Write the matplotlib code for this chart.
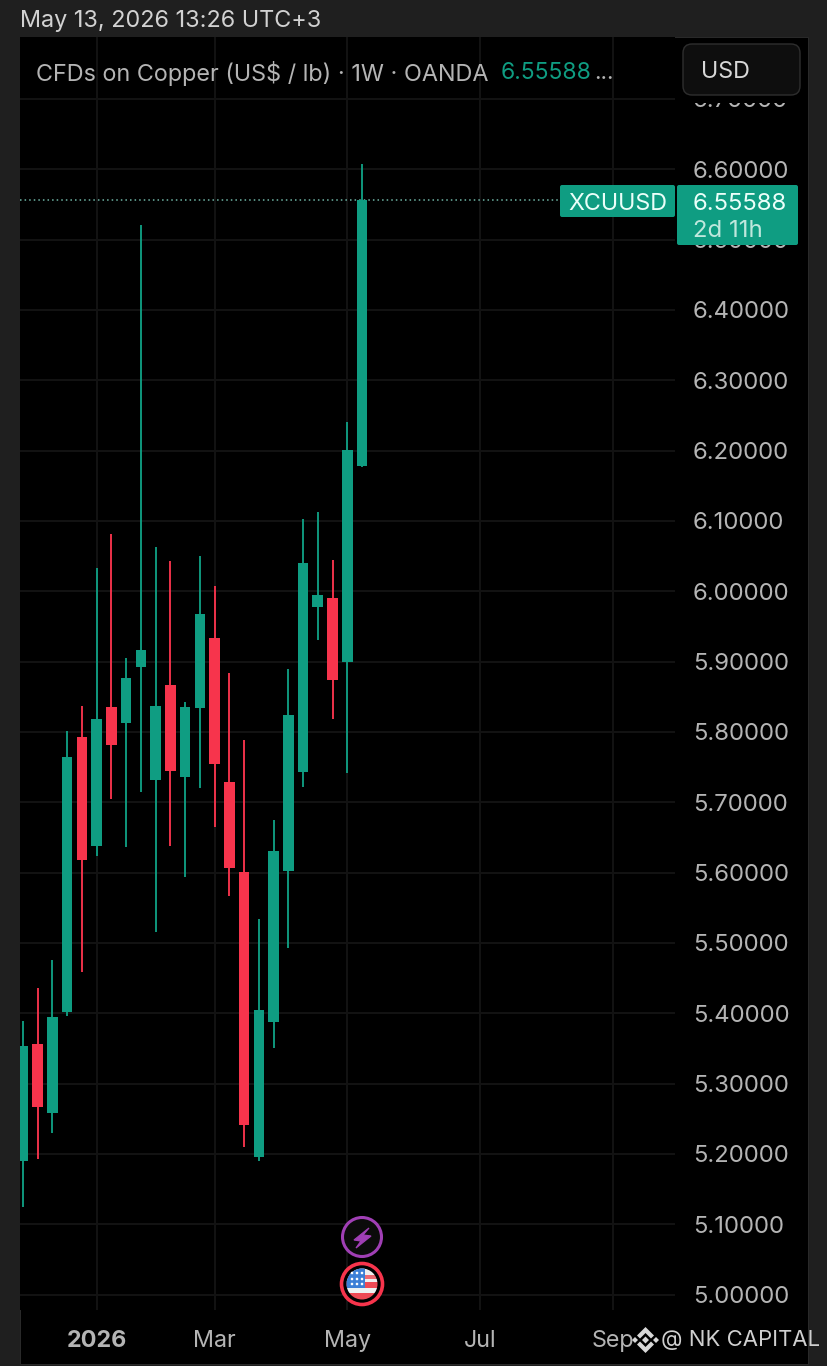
import matplotlib
matplotlib.use('Agg')
import matplotlib.pyplot as plt
from matplotlib.patches import Circle, FancyBboxPatch, Polygon, Rectangle

opens = [5.190, 5.356, 5.258, 5.402, 5.793, 5.638, 5.836, 5.813, 5.892, 5.732, 5.867, 5.736,
         5.834, 5.934, 5.729, 5.601, 5.196, 5.388, 5.602, 5.743, 5.978, 5.991, 5.899, 6.178]
closes = [5.354, 5.267, 5.395, 5.764, 5.618, 5.819, 5.782, 5.876, 5.917, 5.837, 5.745, 5.836,
          5.968, 5.755, 5.607, 5.241, 5.405, 5.630, 5.824, 6.040, 5.994, 5.874, 6.201, 6.55588]
highs = [5.389, 5.436, 5.476, 5.801, 5.837, 6.033, 6.082, 5.905, 6.521, 6.063, 6.043, 5.843,
         6.050, 6.007, 5.884, 5.789, 5.534, 5.675, 5.890, 6.103, 6.113, 6.045, 6.240, 6.608]
lows = [5.125, 5.192, 5.230, 5.396, 5.459, 5.623, 5.705, 5.637, 5.714, 5.516, 5.638, 5.593,
        5.720, 5.665, 5.566, 5.210, 5.190, 5.351, 5.492, 5.722, 5.931, 5.819, 5.742, 6.176]

price_ticks = [5.0, 5.1, 5.2, 5.3, 5.4, 5.5, 5.6, 5.7, 5.8, 5.9, 6.0, 6.1, 6.2, 6.3, 6.4, 6.5, 6.6, 6.7]
date_ticks = [5, 13, 22, 31, 40]
date_labels = ['2026', 'Mar', 'May', 'Jul', 'Sep']

UP = '#0f9d82'
DOWN = '#f7344c'
BG = '#1f1f1f'
GRID = '#131313'
TEXT = '#b4b4b4'
W, H = 828, 1366

plt.rcParams['font.family'] = ['Inter', 'DejaVu Sans']

fig = plt.figure(figsize=(W / 100, H / 100), dpi=100, facecolor=BG)
fig.add_artist(Rectangle((20 / W, 2 / H), 788 / W, 1327 / H, transform=fig.transFigure,
                         facecolor='black', edgecolor='#2a2a2a', lw=0.7, zorder=-1))

# price pane, tick labels sit outside it like on the real chart
ax = fig.add_axes([20 / W, (H - 1310) / H, 655 / W, 1273 / H], facecolor='black')
ax.set_xlim(-0.2, 44.23)
ax.set_ylim(4.978, 6.788)
for s in ax.spines.values():
    s.set_visible(False)
ax.set_axisbelow(True)
ax.grid(True, color=GRID, lw=1.4)
ax.yaxis.tick_right()
ax.set_yticks(price_ticks)
ax.set_yticklabels([f'{p:.5f}' for p in price_ticks])
ax.set_xticks(date_ticks)
ax.set_xticklabels(date_labels)
ax.tick_params(axis='y', length=0, pad=13, labelsize=17.2, labelcolor=TEXT)
ax.tick_params(axis='x', length=0, pad=14.5, labelsize=16.8, labelcolor=TEXT)
ax.get_xticklabels()[0].set_fontweight('bold')

for i in range(len(opens)):
    color = UP if closes[i] >= opens[i] else DOWN
    ax.vlines(i, lows[i], highs[i], color=color, lw=1.35, zorder=2)
    ax.bar(i, abs(closes[i] - opens[i]), bottom=min(opens[i], closes[i]), width=0.72,
           color=color, zorder=3)

ax.axhline(closes[-1], color='#6fb5a6', lw=1.1, ls=(0, (1, 2)), zorder=1)

# everything around the chart, in pixels
ui = fig.add_axes([0, 0, 1, 1], zorder=5)
ui.set_xlim(0, W)
ui.set_ylim(H, 0)
ui.axis('off')
ui.patch.set_alpha(0)

ui.add_patch(Rectangle((676, 38), 131, 65, facecolor='black', edgecolor='none'))
ui.add_patch(FancyBboxPatch((683, 44), 117, 51, boxstyle='round,pad=0,rounding_size=9',
                            facecolor='#0e0e0e', edgecolor='#2e2e2e', lw=1))

ui.text(20, 20.5, 'May 13, 2026 13:26 UTC+3', color='#d2d2d2', fontsize=16.85, va='center')
ui.text(36, 73, 'CFDs on Copper (US$ / lb) · 1W · OANDA', color=TEXT, fontsize=16.85, va='center')
ui.text(501, 73, '6.55588', color=UP, fontsize=16.5, va='center')
ui.text(594, 73, '...', color=TEXT, fontsize=16.5, va='center')
ui.text(701, 72, 'USD', color='#d8d8d8', fontsize=16.8, va='center')

# last price tags
ui.add_patch(FancyBboxPatch((560, 185), 115, 32, boxstyle='round,pad=0,rounding_size=2',
                            facecolor=UP, edgecolor='none'))
ui.add_patch(FancyBboxPatch((677, 185), 121, 60, boxstyle='round,pad=0,rounding_size=2',
                            facecolor=UP, edgecolor='none'))
ui.text(617.5, 204, 'XCUUSD', color='#eafff9', fontsize=16.8, ha='center', va='center')
ui.text(693, 204, '6.55588', color='#eafff9', fontsize=17.2, va='center')
ui.text(693, 231, '2d 11h', color='#bfe8dd', fontsize=17.2, va='center')

# event markers above May
ui.add_patch(Circle((362, 1237), 19.5, facecolor='#0b0b0b', edgecolor='#a03fb5', lw=2.2))
ui.add_patch(Polygon([(369, 1228), (354, 1240), (361, 1241), (356, 1248), (371, 1236), (363, 1235)],
                     facecolor='#a03fb5', edgecolor='#a03fb5', lw=0.9))

ui.add_patch(Circle((362, 1284), 20.5, facecolor='black', edgecolor='#f7344c', lw=2.6))
flag = Circle((362, 1284), 15.5, transform=ui.transData)
stripes = [(1268, 7, '#f0f0f0'), (1275, 4, '#ee6a72'), (1279, 3, '#f0f0f0'),
           (1282, 6, '#ee4a55'), (1288, 5, '#eef2f2'), (1293, 7, '#ee4a55')]
for y0, h, c in stripes:
    r = Rectangle((346, y0), 32, h, facecolor=c, edgecolor='none')
    ui.add_patch(r)
    r.set_clip_path(flag)
canton = Rectangle((346, 1268), 19, 20, facecolor='#3c7fd6', edgecolor='none')
ui.add_patch(canton)
canton.set_clip_path(flag)
for sx in (352, 357, 362):
    for sy in (1273, 1279, 1284):
        ui.add_patch(Circle((sx, sy), 1.3, facecolor='white', edgecolor='none'))

# watermark, binance style mark then the name
LOGO = '#d8d8d8'
ui.add_patch(Polygon([(645.5, 1327), (654, 1335.5), (651, 1338.5), (645.5, 1333), (640, 1338.5), (637, 1335.5)],
                     facecolor=LOGO, edgecolor='none'))
ui.add_patch(Polygon([(645.5, 1353), (654, 1344.5), (651, 1341.5), (645.5, 1347), (640, 1341.5), (637, 1344.5)],
                     facecolor=LOGO, edgecolor='none'))
for cx, r in [(635, 3), (656, 3), (645.5, 3.5)]:
    ui.add_patch(Polygon([(cx, 1340 - r), (cx + r, 1340), (cx, 1340 + r), (cx - r, 1340)],
                         facecolor=LOGO, edgecolor='none'))
ui.text(661, 1340, '@ NK CAPITAL', color='#cfcfcf', fontsize=15.9, va='center')

fig.savefig('out.png', dpi=100, facecolor=BG)
